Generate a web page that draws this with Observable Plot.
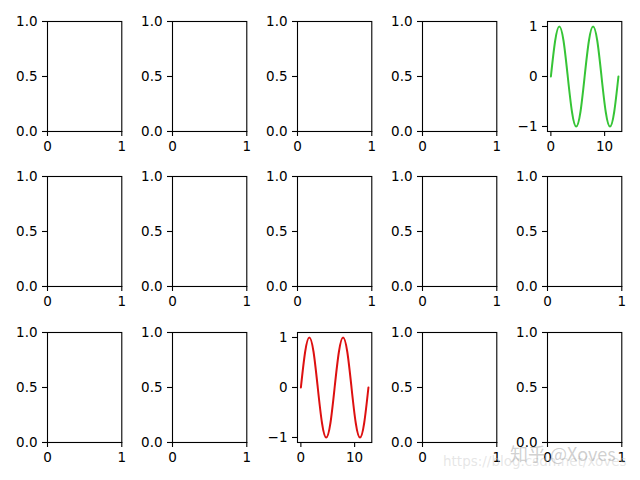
<!DOCTYPE html>
<html><head><meta charset="utf-8">
<script src="https://cdn.jsdelivr.net/npm/d3@7"></script>
<script src="https://cdn.jsdelivr.net/npm/@observablehq/plot@0.6"></script>
<style>
body{margin:0;background:#fff}
#fig{position:relative;width:640px;height:480px;overflow:hidden;font-family:"DejaVu Sans",sans-serif;background:#fff}
#fig svg{position:absolute;overflow:visible}
.wm1{position:absolute;left:510px;top:440px;font-family:"Noto Sans CJK SC","DejaVu Sans";font-size:18px;color:rgba(150,150,150,0.45);white-space:nowrap}
.wm2{position:absolute;left:443px;top:453px;font-family:"DejaVu Sans";font-size:13.5px;color:rgba(200,200,200,0.45);white-space:nowrap}
</style>
</head><body><div id="fig"></div>
<script>
// Sine curve samples (quarter-period spacing)
const sineX = [0, 0.79, 1.57, 2.36, 3.14, 3.93, 4.71, 5.50, 6.28, 7.07, 7.85, 8.64, 9.42, 10.21, 11.00, 11.78, 12.57];
const sineY = [0, 0.71, 1, 0.71, 0, -0.71, -1, -0.71, 0, 0.71, 1, 0.71, 0, -0.71, -1, -0.71, 0];

// Tick values
const emptyXTicks = [0, 1];
const emptyYTicks = [0, 0.5, 1];
const sineXTicks = [0, 10];
const sineYTicks = [-1, 0, 1];

// Which panels (row, col) hold a curve, and their colours
const curvePanels = [
  {row: 0, col: 4, color: "#36c436"},
  {row: 2, col: 2, color: "#dd1010"}
];

const nRows = 3, nCols = 5;
const colLefts = [47.3, 172.2, 297.2, 422.1, 547.0];
const rowTops = [21.3, 176.3, 331.5];
const axW = 74.3, axH = 110;
const mL = 45, mR = 12, mT = 10, mB = 28;

const sineData = sineX.map((x, i) => ({x, y: sineY[i]}));
const fig = document.getElementById("fig");

for (let r = 0; r < nRows; r++) {
  for (let c = 0; c < nCols; c++) {
    const cp = curvePanels.find(p => p.row === r && p.col === c);
    const marks = [];
    let xOpt, yOpt, xT, yT, xF, yF;
    if (cp) {
      xOpt = {domain: [-0.6283, 13.1947]};
      yOpt = {domain: [-1.1, 1.1]};
      xT = sineXTicks; yT = sineYTicks;
      xF = d3.format("d"); yF = d3.format("d");
      marks.push(Plot.line(sineData, {x: "x", y: "y", stroke: cp.color, strokeWidth: 2, curve: "natural"}));
    } else {
      xOpt = {domain: [0, 1]};
      yOpt = {domain: [0, 1]};
      xT = emptyXTicks; yT = emptyYTicks;
      xF = d3.format("d"); yF = d3.format(".1f");
    }
    marks.push(Plot.frame({stroke: "black", strokeWidth: 1.1}));
    marks.push(Plot.axisX({ticks: xT, tickFormat: xF, tickSize: 5, tickPadding: 5, label: null, strokeWidth: 1.1}));
    marks.push(Plot.axisY({ticks: yT, tickFormat: yF, tickSize: 5, tickPadding: 5, label: null, strokeWidth: 1.1}));
    const svg = Plot.plot({
      width: mL + axW + mR,
      height: mT + axH + mB,
      marginLeft: mL, marginRight: mR, marginTop: mT, marginBottom: mB,
      x: {...xOpt, label: null},
      y: {...yOpt, label: null},
      style: {fontSize: "13.5px", fontFamily: "DejaVu Sans", color: "black", background: "transparent", overflow: "visible"},
      marks
    });
    svg.style.left = (colLefts[c] - mL) + "px";
    svg.style.top = (rowTops[r] - mT) + "px";
    fig.appendChild(svg);
  }
}

const w1 = document.createElement("div");
w1.className = "wm1"; w1.textContent = "知乎 @Xoves";
const w2 = document.createElement("div");
w2.className = "wm2"; w2.textContent = "https://blog.csdn.net/xoves";
fig.appendChild(w2); fig.appendChild(w1);
</script>
</body></html>
